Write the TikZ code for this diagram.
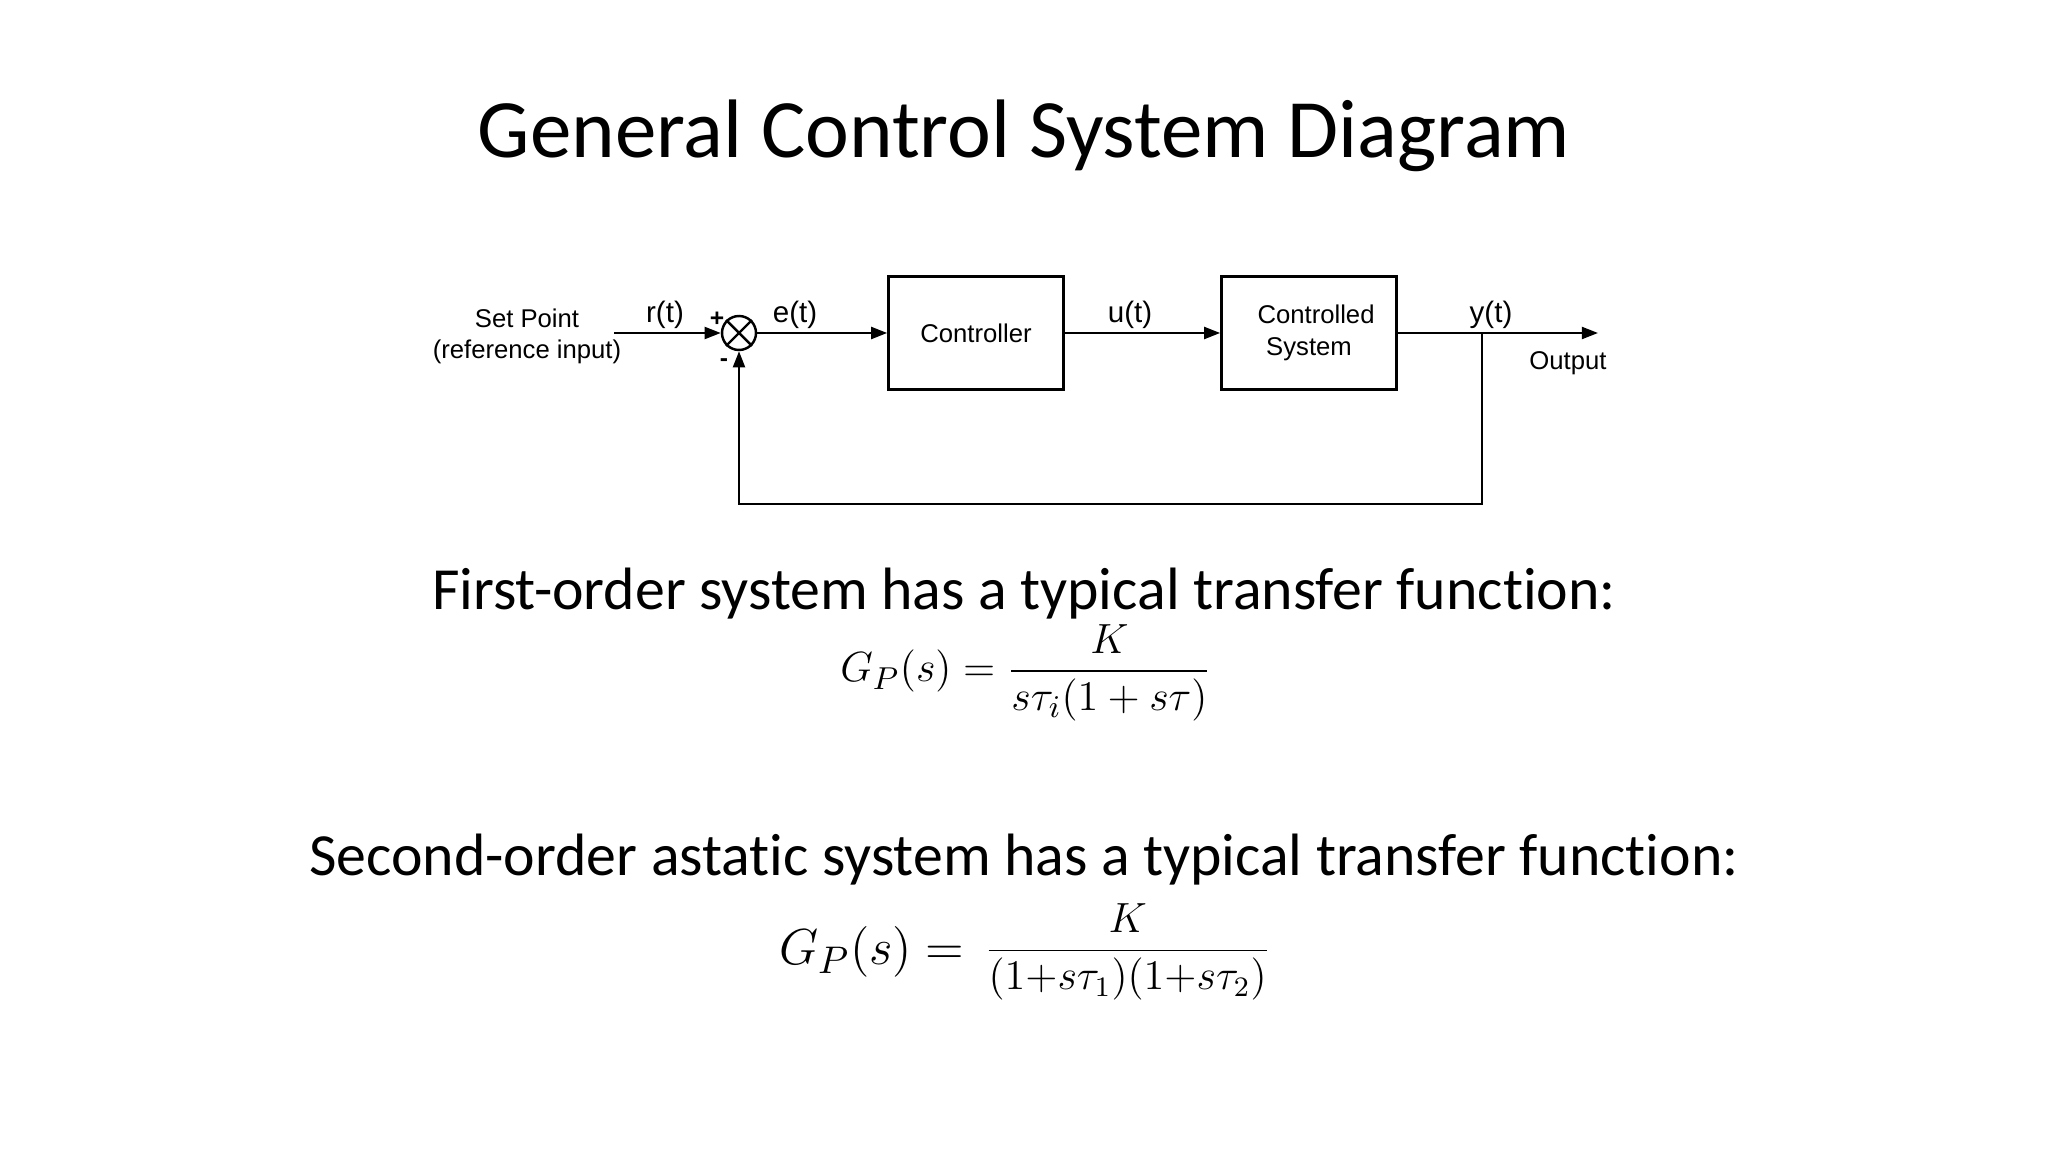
\documentclass[tikz,border=0pt]{standalone}
\usepackage{amsmath,amssymb}
\usepackage{fontspec}
\setmainfont{Carlito}[Ligatures=NoCommon]
\newfontfamily\diagfont{Liberation Sans}
\usepackage{tikz}
\usetikzlibrary{arrows.meta,positioning,calc}

\begin{document}
\begin{tikzpicture}[
    x=0.01cm, y=-0.01cm,
    block/.style={draw, line width=0.7pt, minimum width=1.75cm, minimum height=1.13cm, align=center,
        font=\diagfont\fontsize{7.3}{9}\selectfont},
    lbl/.style={font=\diagfont\fontsize{7.3}{8.8}\selectfont, align=center, inner sep=0pt},
    sig/.style={font=\diagfont\fontsize{8.4}{10}\selectfont, inner sep=0pt},
    sgn/.style={font=\diagfont\bfseries\fontsize{7}{8}\selectfont, inner sep=0pt},
    arr/.style={-{Triangle[length=4.6pt, width=3.4pt]}, line width=0.7pt},
    wire/.style={line width=0.7pt}
]
\useasboundingbox (0,0) rectangle (2048,1152);

% title
\node[font=\fontsize{23.6}{28}\selectfont, anchor=base] (title) at (1024,158) {General Control System Diagram};

% block diagram
\node[draw, circle, line width=0.7pt, minimum size=0.34cm, inner sep=0pt] (sum) at (739,333) {};
\draw[wire] (sum.north west) -- (sum.south east);
\draw[wire] (sum.north east) -- (sum.south west);
\node[block] (ctrl) at (976,333) {Controller};
\node[block] (plant) at (1309,333) {\hspace*{4pt}Controlled\\System};

\coordinate (in) at (614,333);
\coordinate (out) at (1598,333);
\coordinate (tap) at (1482,333);
\coordinate (fb) at (1482,504);

\draw[arr] (in) -- (sum.west);
\draw[arr] (sum.east) -- (ctrl.west);
\draw[arr] (ctrl.east) -- (plant.west);
\draw[arr] (plant.east) -- (out);
\draw[arr] (tap) -- (fb) -| (sum.south);

\node[lbl] (setpt) at (527,336) {Set Point\\(reference input)};
\node[lbl] (outlbl) at (1568,363) {Output};
\node[sig] (rlbl) at (665,315) {r(t)};
\node[sig] (elbl) at (795,315) {e(t)};
\node[sig] (ulbl) at (1130,315) {u(t)};
\node[sig] (ylbl) at (1491,315) {y(t)};
\node[sgn] (plus) at (717,319) {+};
\node[sgn] (minus) at (724,363) {-};

% transfer functions
\node[font=\fontsize{17}{20}\selectfont, anchor=base] (first) at (1024,610)
    {First-order system has a typical transfer function:};
\node[font=\fontsize{13}{16}\selectfont] (tf1) at (1026,673)
    {$G_P(s) = \dfrac{K}{s\tau_i(1+s\tau)}$};
\node[font=\fontsize{17}{20}\selectfont, anchor=base] (second) at (1024,875)
    {Second-order astatic system has a typical transfer function:};
\node[font=\fontsize{15}{18}\selectfont, anchor=east] (gp2) at (977,952) {$G_P(s) =$};
\node[font=\fontsize{11.5}{14}\selectfont, anchor=west] (tf2) at (972,952)
    {$\dfrac{K}{(1{+}s\tau_1)(1{+}s\tau_2)}$};
\end{tikzpicture}
\end{document}
